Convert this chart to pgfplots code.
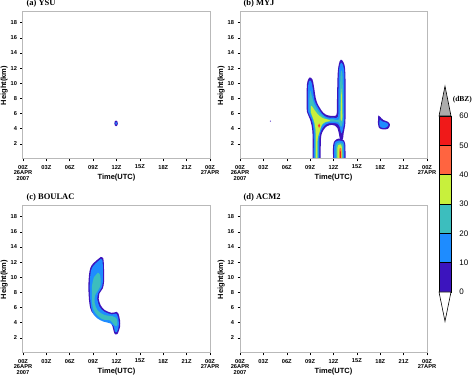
\documentclass[border=0pt]{standalone}
\usepackage{pgfplots}
\pgfplotsset{compat=1.18}
\usepackage{fontspec}
\setmainfont{Liberation Sans}
\newfontfamily\serifbf{Liberation Serif}
\definecolor{c0}{RGB}{60,20,190}
\definecolor{c10}{RGB}{30,140,255}
\definecolor{c20}{RGB}{60,190,190}
\definecolor{c30}{RGB}{200,240,60}
\definecolor{c40}{RGB}{255,100,64}
\definecolor{c50}{RGB}{240,25,25}
\pgfplotsset{
 panel/.style={
  scale only axis, width=187pt, height=147pt, anchor=south west,
  xmin=0, xmax=24, ymin=0, ymax=19.4,
  xtick={0,3,...,24},
  xticklabels={{00Z\\26APR\\2007},03Z,06Z,09Z,12Z,15Z,18Z,21Z,{00Z\\27APR}},
  ytick={2,4,...,18},
  tick align=outside, tick pos=left,
  major tick length=2.5pt, tick style={black, line width=0.5pt},
  axis line style={gray!55, line width=1pt},
  ticklabel style={font=\fontsize{5.7}{5.9}\selectfont\bfseries},
  xticklabel style={align=center},
  /pgf/number format/assume math mode=true,
  xlabel={Time(UTC)}, ylabel={Height(km)},
  label style={font=\fontsize{7.5}{8}\selectfont\bfseries},
  xlabel style={at={(axis description cs:0.5,-0.125)}, anchor=center},
  ylabel style={at={(axis description cs:-0.1,0.5)}, anchor=center},
  title style={at={(axis description cs:0,1)}, anchor=south west,
     font=\serifbf\fontsize{8.5}{9}\selectfont\bfseries, yshift=-5pt},
  axis on top,
 },
 blob/.style={draw=none, fill=#1, smooth, tension=0.55},
}
\begin{document}
\begin{tikzpicture}
\useasboundingbox (0,0) rectangle (474pt,377pt);

% (a) YSU
\begin{axis}[panel, at={(23pt,218pt)}, title={(a) YSU}]
\addplot[blob=c0] coordinates {(11.95,5.08)(12.11,4.97)(12.17,4.7)(12.11,4.43)(11.95,4.32)(11.79,4.43)(11.73,4.7)(11.79,4.97)} -- cycle;
\addplot[blob=c10] coordinates {(11.95,4.86)(12.03,4.81)(12.05,4.7)(12.03,4.59)(11.95,4.54)(11.87,4.59)(11.85,4.7)(11.87,4.81)} -- cycle;
\end{axis}

% (b) MYJ
\begin{axis}[panel, at={(240pt,218pt)}, title={(b) MYJ}]
% outer H
\addplot[blob=c0] coordinates {(9.3,-0.3)(9.3,3.5)(9.0,5.2)(8.6,6.2)(8.55,7.8)(8.6,9.9)(8.9,10.75)(9.3,10.5)(9.5,9.5)(9.75,7.9)(10.1,7.0)(10.7,6.1)(11.3,5.75)(12.0,5.7)(12.4,5.9)(12.45,8)(12.55,11.5)(12.8,12.9)(13.1,13.05)(13.45,12.2)(13.55,10)(13.55,6)(13.5,4.5)(13.3,3.4)(13.2,2.6)(12.85,2.6)(12.7,3.3)(12.5,4.1)(12.2,4.4)(11.8,4.5)(11.2,4.35)(10.7,3.8)(10.4,2.8)(10.35,-0.3)} -- cycle;
\addplot[blob=c10] coordinates {(9.45,-0.3)(9.45,3.5)(9.2,5.2)(8.75,6.2)(8.72,7.8)(8.75,9.7)(8.92,10.35)(9.15,10.2)(9.32,9.4)(9.55,7.8)(9.95,6.9)(10.55,5.95)(11.2,5.5)(12.0,5.45)(12.58,5.6)(12.62,8)(12.7,11.5)(12.9,12.6)(13.12,12.6)(13.35,11.8)(13.4,10)(13.4,6)(13.35,4.6)(13.1,3.5)(12.95,3.5)(12.8,4.2)(12.5,4.65)(11.8,4.75)(11.1,4.6)(10.55,4.0)(10.2,2.8)(10.2,-0.3)} -- cycle;
\addplot[blob=c20] coordinates {(9.6,-0.3)(9.6,3.5)(9.35,5.3)(8.95,6.3)(8.9,7.6)(9.0,9.0)(9.2,8.4)(9.6,7.1)(10.3,6.0)(11.1,5.35)(12.0,5.25)(12.75,5.35)(12.8,8)(12.9,11)(13.02,11.7)(13.15,11)(13.22,8)(13.25,5.5)(13.15,4.7)(12.95,4.2)(12.7,4.8)(11.8,4.95)(11.0,4.8)(10.4,4.2)(10.05,2.8)(10.05,-0.3)} -- cycle;
\addplot[blob=c30] coordinates {(9.72,-0.3)(9.72,3.5)(9.5,5.0)(9.15,6.0)(9.1,7.0)(9.35,6.8)(9.9,6.0)(10.6,5.4)(11.3,5.2)(11.6,5.0)(11.0,4.9)(10.5,4.5)(10.2,3.5)(9.95,2.5)(9.95,-0.3)} -- cycle;
\addplot[blob=c30] coordinates {(12.9,5.3)(12.95,7)(13.02,9.3)(13.1,7)(13.12,5.3)(13.0,5.05)} -- cycle;
\addplot[blob=c40] coordinates {(10.15,4.7)(10.3,4.4)(10.15,4.1)(10.0,4.4)} -- cycle;
\addplot[blob=c50] coordinates {(10.15,4.55)(10.22,4.4)(10.15,4.25)(10.08,4.4)} -- cycle;
% lower blob
\addplot[blob=c0] coordinates {(11.95,-0.3)(11.95,1.8)(12.2,2.45)(12.7,2.7)(13.2,2.55)(13.5,2.0)(13.55,-0.3)} -- cycle;
\addplot[blob=c10] coordinates {(12.1,-0.3)(12.1,1.8)(12.3,2.3)(12.7,2.45)(13.15,2.35)(13.38,1.9)(13.4,-0.3)} -- cycle;
\addplot[blob=c20] coordinates {(12.3,-0.3)(12.3,1.6)(12.5,2.1)(12.8,2.2)(13.1,2.05)(13.25,1.7)(13.25,-0.3)} -- cycle;
\addplot[blob=c30] coordinates {(12.5,-0.3)(12.5,1.5)(12.75,1.9)(13.05,1.7)(13.1,-0.3)} -- cycle;
\addplot[blob=c40] coordinates {(12.75,-0.3)(12.75,1.2)(12.9,1.45)(13.0,1.2)(13.0,-0.3)} -- cycle;
\addplot[blob=c50] coordinates {(12.82,-0.3)(12.82,0.9)(12.88,1.0)(12.94,0.9)(12.94,-0.3)} -- cycle;
% 18Z blob
\addplot[blob=c0] coordinates {(17.75,5.75)(17.95,5.6)(18.4,5.15)(19.0,4.9)(19.25,4.5)(19.0,4.0)(18.4,3.9)(17.85,4.1)(17.7,4.8)} -- cycle;
\addplot[blob=c10] coordinates {(17.95,5.2)(18.3,4.95)(18.9,4.75)(19.05,4.5)(18.85,4.2)(18.35,4.1)(17.95,4.3)(17.88,4.8)} -- cycle;
% 03Z dot
\addplot[blob=c0] coordinates {(3.82,5.0)(3.9,5.08)(3.98,5.0)(3.9,4.92)} -- cycle;
\end{axis}

% (c) BOULAC
\begin{axis}[panel, at={(23pt,24pt)}, title={(c) BOULAC}]
\addplot[blob=c0] coordinates {(9.97,12.67)(10.31,12.46)(10.40,10.92)(10.40,9.38)(10.23,8.51)(9.8,7.85)(9.71,7.2)(9.97,6.3)(10.5,5.66)(11.38,5.3)(12.02,5.43)(12.24,5.22)(12.45,4.34)(12.45,3.46)(12.11,2.5)(11.73,2.58)(11.5,3.46)(11.17,4.1)(10.31,4.34)(9.46,4.78)(8.82,5.43)(8.52,6.54)(8.39,8.72)(8.52,10.7)(8.82,11.58)(9.46,12.24)} -- cycle;
\addplot[blob=c10] coordinates {(9.97,12.4)(10.2,12.2)(10.25,10.9)(10.25,9.4)(10.08,8.6)(9.62,7.85)(9.52,7.2)(9.82,6.1)(10.45,5.45)(11.38,5.1)(11.95,5.2)(12.1,5.0)(12.28,4.3)(12.28,3.5)(12.05,2.78)(11.8,2.85)(11.65,3.5)(11.25,3.9)(10.3,4.15)(9.5,4.6)(8.95,5.3)(8.68,6.5)(8.56,8.7)(8.68,10.6)(8.95,11.4)(9.5,12.0)} -- cycle;
\addplot[blob=c20] coordinates {(9.6,10.6)(9.9,10.3)(9.95,9.0)(9.65,8.3)(9.25,7.6)(9.2,6.6)(9.6,5.6)(10.5,5.0)(11.5,4.85)(12.05,4.5)(12.1,3.7)(11.8,3.6)(11.2,4.3)(10.3,4.4)(9.6,4.9)(9.05,5.7)(8.85,6.8)(8.85,8.8)(9.1,10.0)} -- cycle;
\end{axis}

% (d) ACM2
\begin{axis}[panel, at={(240pt,24pt)}, title={(d) ACM2}]
\addplot[draw=none] coordinates {(0,0)};
\end{axis}

% colour bar
\begin{axis}[at={(439pt,85pt)}, anchor=south west, scale only axis, width=12pt, height=176pt,
  xmin=0, xmax=1, ymin=0, ymax=60, hide axis, clip=false]
\addplot[fill=c0, draw=black, line width=0.6pt] coordinates {(0,0)(1,0)(1,10)(0,10)} -- cycle;
\addplot[fill=c10, draw=black, line width=0.6pt] coordinates {(0,10)(1,10)(1,20)(0,20)} -- cycle;
\addplot[fill=c20, draw=black, line width=0.6pt] coordinates {(0,20)(1,20)(1,30)(0,30)} -- cycle;
\addplot[fill=c30, draw=black, line width=0.6pt] coordinates {(0,30)(1,30)(1,40)(0,40)} -- cycle;
\addplot[fill=c40, draw=black, line width=0.6pt] coordinates {(0,40)(1,40)(1,50)(0,50)} -- cycle;
\addplot[fill=c50, draw=black, line width=0.6pt] coordinates {(0,50)(1,50)(1,60)(0,60)} -- cycle;
\addplot[fill=white, draw=black, line width=0.6pt] coordinates {(0,0)(1,0)(0.5,-10)} -- cycle;
\addplot[fill=gray!65, draw=black, line width=0.6pt] coordinates {(0,60)(1,60)(0.5,70.2)} -- cycle;
\foreach \v in {0,10,20,30,40,50,60} {
  \edef\tmp{\noexpand\node[anchor=west, font=\noexpand\fontsize{8}{9}\noexpand\selectfont] at (axis cs:1.4,\v) {\v};}
  \tmp
}
\node[font=\serifbf\bfseries\fontsize{7.5}{8}\selectfont] at (axis cs:1.95,65.5) {(dBZ)};
\end{axis}
\end{tikzpicture}
\end{document}
